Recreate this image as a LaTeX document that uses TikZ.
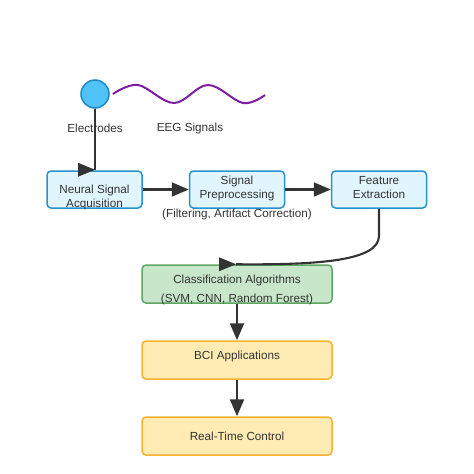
\documentclass[tikz,border=0pt]{standalone}
\usepackage{fontspec}
\setmainfont{Liberation Sans}
\usetikzlibrary{arrows.meta,calc}
\definecolor{txt}{HTML}{333333}
\definecolor{bluefill}{HTML}{E1F5FE}
\definecolor{bluestroke}{HTML}{2892CF}
\definecolor{greenfill}{HTML}{C8E6C9}
\definecolor{greenstroke}{HTML}{5FA563}
\definecolor{yelfill}{HTML}{FFECB3}
\definecolor{yelstroke}{HTML}{FBB02F}
\definecolor{elecfill}{HTML}{4FC3F7}
\definecolor{elecstroke}{HTML}{1E88C8}
\definecolor{wave}{HTML}{7B1FA2}
\tikzset{
  lbl/.style={text=txt,font=\fontsize{11.7}{14}\selectfont,inner sep=0pt,align=center},
  bluebox/.style={draw=bluestroke,fill=bluefill,line width=1.5pt,rounded corners=4pt,minimum width=95pt,minimum height=37pt,inner sep=0pt},
  greenbox/.style={draw=greenstroke,fill=greenfill,line width=1.5pt,rounded corners=4pt,minimum width=190pt,minimum height=38pt,inner sep=0pt},
  yelbox/.style={draw=yelstroke,fill=yelfill,line width=1.5pt,rounded corners=4pt,minimum width=190pt,minimum height=38pt,inner sep=0pt},
  conn/.style={draw=txt,line width=2.1pt},
  arr/.style={conn,-{Triangle[length=17pt,width=14pt]}},
}
\newcommand{\rtip}[1]{\fill[txt] (#1) -- ++(-17,-7) -- ++(0,14) -- cycle;}
\begin{document}
\begin{tikzpicture}[x=1pt,y=-1pt]
\useasboundingbox (0,0) rectangle (474,474);
% electrode and wave
\node[circle,draw=elecstroke,fill=elecfill,line width=1.5pt,minimum size=28pt,inner sep=0pt] (elec) at (95,94) {};
\draw[wave,line width=2pt] plot[smooth,tension=0.6] coordinates {(113,94) (138,85) (174,103) (208,85) (243,103) (265,95)};
\node[lbl] (electxt) at (95,128.5) {Electrodes};
\node[lbl] (eegtxt) at (190,128.5) {EEG Signals};
% boxes
\node[bluebox] (acq) at (94.5,189.5) {};
\node[lbl] (acqtxt) at (94.5,197) {Neural Signal\\Acquisition};
\node[bluebox] (pre) at (237,189.5) {};
\node[lbl] (pretxt) at (237,188) {Signal\\Preprocessing};
\node[lbl] (filt) at (237,214.5) {(Filtering, Artifact Correction)};
\node[bluebox] (feat) at (379,189.5) {};
\node[lbl] (feattxt) at (379,188) {Feature\\Extraction};
\node[greenbox] (cls) at (237,284) {};
\node[lbl] (clstxt) at (237,280) {Classification Algorithms};
\node[lbl] (clssub) at (237,299) {(SVM, CNN, Random Forest)};
\node[yelbox] (bci) at (237,360) {};
\node[lbl] (bcitxt) at (237,356) {BCI Applications};
\node[yelbox] (rt) at (237,436) {};
\node[lbl] (rttxt) at (237,436.5) {Real-Time Control};
% connectors
\coordinate (etip) at ($(elec.south |- acq.north)+(0,-0.5)$);
\draw[conn] (elec.south) -- (etip);
\rtip{etip}
\draw[arr] (acq.east) -- (pre.west);
\draw[arr] (pre.east) -- (feat.west);
\coordinate (ctip) at ($(cls.north)+(-1,0)$);
\draw[conn] (feat.south) -- ++(0,27) .. controls +(0,25) and (320,265) .. (ctip);
\rtip{ctip}
\draw[arr] (cls.south) -- (bci.north);
\draw[arr] (bci.south) -- (rt.north);
\end{tikzpicture}
\end{document}
